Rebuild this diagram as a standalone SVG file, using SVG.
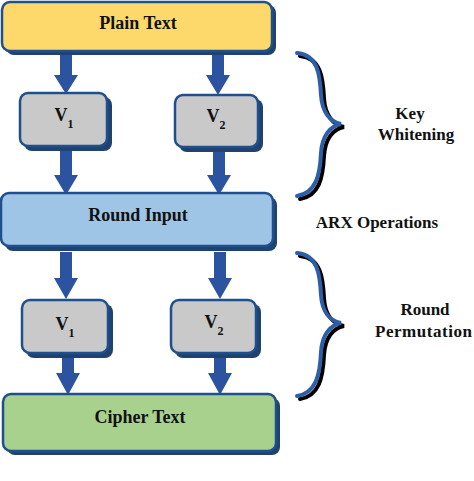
<svg xmlns="http://www.w3.org/2000/svg" width="474" height="481" viewBox="0 0 474 481">
<defs>
<style>
.box{stroke:#1f4f8c;stroke-width:2.5}
.sh{fill:#1f4270}
.lbl{font-family:'Liberation Serif',serif;font-weight:bold;font-size:18px;fill:#111;text-anchor:middle}
.side{font-family:'Liberation Serif',serif;font-weight:bold;font-size:17px;fill:#111;text-anchor:middle}
.sub{font-size:12px}
.arr{fill:#2c53a0}
.br{fill:none;stroke:#2d5fa8;stroke-width:4;stroke-linecap:round}
.brs{fill:none;stroke:#000;stroke-width:4;stroke-linecap:round}
</style>
</defs>
<rect width="474" height="481" fill="#fff"/>
<g id="connectors">
<polygon class="arr" points="60,55 72,55 72,75 78,75 66,94 54,75 60,75"/>
<polygon class="arr" points="212,55 224,55 224,75 230,75 218,95 206,75 212,75"/>
<polygon class="arr" points="60,150 72,150 72,175 78,175 66,195 54,175 60,175"/>
<polygon class="arr" points="213,151 225,151 225,175 231,175 219,195 207,175 213,175"/>
<polygon class="arr" points="60,252 72,252 72,278 78,278 66,299 54,278 60,278"/>
<polygon class="arr" points="214,252 226,252 226,278 232,278 220,299 208,278 214,278"/>
<polygon class="arr" points="62,355 74,355 74,373 80,373 68,395 56,373 62,373"/>
<polygon class="arr" points="214,355 226,355 226,373 232,373 220,395 208,373 214,373"/>
</g>
<g id="plain">
<rect class="sh" x="6" y="5" width="270" height="50" rx="8"/>
<rect class="box" x="2" y="2" width="270" height="49" rx="8" fill="#fdd86b"/>
<text class="lbl" x="138" y="29" font-family="'Liberation Serif', serif">Plain Text</text>
</g>
<g id="v1a">
<rect class="sh" x="24" y="97" width="88" height="54" rx="8"/>
<rect class="box" x="20" y="93" width="87" height="53" rx="8" fill="#c9c9c9"/>
<text class="lbl" x="64" y="121" font-family="'Liberation Serif', serif">V<tspan class="sub" dy="7">1</tspan></text>
</g>
<g id="v2a">
<rect class="sh" x="179" y="99" width="84" height="53" rx="8"/>
<rect class="box" x="175" y="95" width="83" height="52" rx="8" fill="#c9c9c9"/>
<text class="lbl" x="216" y="122" font-family="'Liberation Serif', serif">V<tspan class="sub" dy="7">2</tspan></text>
</g>
<g id="round">
<rect class="sh" x="5" y="197" width="272" height="54" rx="8"/>
<rect class="box" x="1" y="193" width="272" height="53" rx="8" fill="#9ec4e6"/>
<text class="lbl" x="138" y="221" font-family="'Liberation Serif', serif">Round Input</text>
</g>
<g id="v1b">
<rect class="sh" x="26" y="304" width="87" height="54" rx="8"/>
<rect class="box" x="22" y="300" width="86" height="53" rx="8" fill="#c9c9c9"/>
<text class="lbl" x="65" y="330" font-family="'Liberation Serif', serif">V<tspan class="sub" dy="7">1</tspan></text>
</g>
<g id="v2b">
<rect class="sh" x="175" y="304" width="86" height="54" rx="8"/>
<rect class="box" x="171" y="300" width="85" height="53" rx="8" fill="#c9c9c9"/>
<text class="lbl" x="214" y="328" font-family="'Liberation Serif', serif">V<tspan class="sub" dy="7">2</tspan></text>
</g>
<g id="cipher">
<rect class="sh" x="7" y="398" width="273" height="57" rx="8"/>
<rect class="box" x="3" y="394" width="273" height="57" rx="8" fill="#a9d18e"/>
<text class="lbl" x="140" y="423" font-family="'Liberation Serif', serif">Cipher Text</text>
</g>
<g id="brace1">
<path class="brs" d="M300,56 C321,58 323,78 324,98 C325,115 333,125 344,127 C333,129 325,139 324,156 C323,178 319,196 300,199"/>
<path class="br" d="M297,53 C318,55 320,75 321,95 C322,112 330,122 341,124 C330,126 322,136 321,153 C320,175 316,193 297,196"/>
</g>
<g id="brace2">
<path class="brs" d="M300,256 C321,258 323,278 324,298 C325,315 333,324 344,326 C333,328 325,338 324,355 C323,378 319,396 300,399"/>
<path class="br" d="M297,253 C318,255 320,275 321,295 C322,312 330,321 341,323 C330,325 322,335 321,352 C320,375 316,393 297,396"/>
</g>
<g id="labels">
<text class="side" x="410" y="119" font-family="'Liberation Serif', serif">Key</text>
<text class="side" x="416" y="140" font-family="'Liberation Serif', serif">Whitening</text>
<text class="side" x="377" y="228" font-family="'Liberation Serif', serif">ARX Operations</text>
<text class="side" x="425" y="315" font-family="'Liberation Serif', serif">Round</text>
<text class="side" x="375" y="337" font-family="'Liberation Serif', serif" style="text-anchor:start" textLength="97">Permutation</text>
</g>
</svg>
